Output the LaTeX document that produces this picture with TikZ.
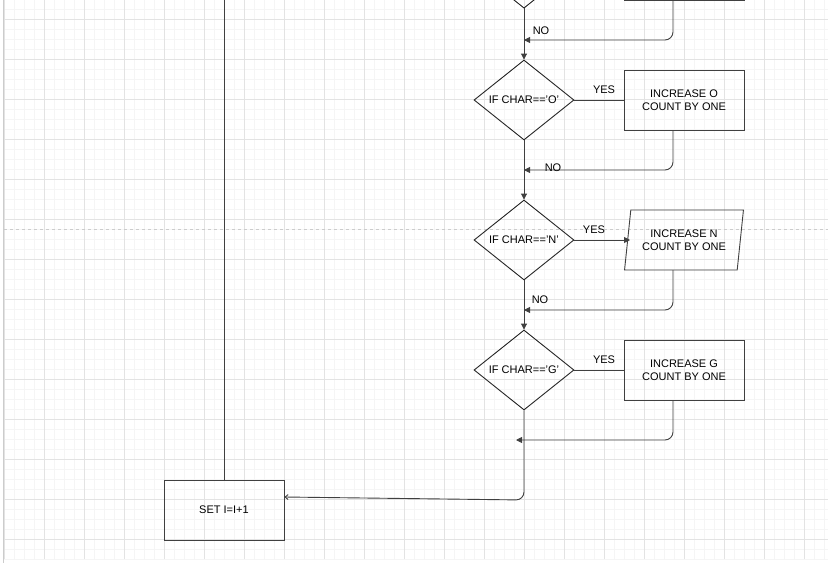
\documentclass[tikz,border=0pt]{standalone}
\usepackage{fontspec}
\setmainfont{Liberation Sans}
\usetikzlibrary{shapes.geometric,arrows.meta}
\begin{document}
\begin{tikzpicture}[x=1pt,y=-1pt,
  every node/.style={font=\fontsize{11}{13.5}\selectfont},
  ln/.style={draw=black!75,line width=0.9pt},
  ar/.style={ln,-{Triangle[length=6pt,width=6pt]}},
  dia/.style={draw=black!85,line width=0.9pt,diamond,minimum width=100pt,minimum height=80pt,inner sep=0pt,aspect=1.25},
  box/.style={draw=black!75,line width=0.9pt,minimum width=120pt,minimum height=60pt,align=center,inner sep=0pt},
  lab/.style={inner sep=0pt}]
\useasboundingbox (0,0) rectangle (828,563);
\fill[white] (0,0) rectangle (828,563);
\foreach \x in {4,14,...,824} \draw[black!4,line width=0.5pt] (\x,0) -- (\x,559);
\foreach \y in {9,19,...,559} \draw[black!4,line width=0.5pt] (4,\y) -- (828,\y);
\foreach \x in {4,44,...,824} \draw[black!11,line width=0.6pt] (\x,0) -- (\x,559);
\foreach \y in {19,59,...,539} \draw[black!11,line width=0.6pt] (4,\y) -- (828,\y);
\draw[black!20,line width=1pt] (3,0) -- (3,563);
\draw[black!20,dashed,line width=1pt] (4,229) -- (828,229);
% top partial
\coordinate (tipT) at (524,8);
\draw[black!85,line width=0.9pt] (474,-32) -- (524,8) -- (574,-32);
\draw[ln] (624,-10) -- (624,0) -- (744,0) -- (744,-10);
\node[dia] (dO) at (524,100) {IF CHAR=='O'};
\node[box] (bO) at (684,100) {INCREASE O\\COUNT BY ONE};
\node[dia] (dN) at (524,240) {IF CHAR=='N'};
\node[draw=black!75,line width=0.9pt,trapezium,trapezium left angle=77,trapezium right angle=103,minimum width=120pt,minimum height=60pt,inner sep=0pt,align=center,trapezium stretches=true] (bN) at (684,240) {INCREASE N\\COUNT BY ONE};
\node[dia] (dG) at (524,370) {IF CHAR=='G'};
\node[box] (bG) at (684,370) {INCREASE G\\COUNT BY ONE};
\node[box] (set) at (224,510) {SET I=I+1};
% connectors
\draw[ar] (tipT) -- (dO.north);
\draw[ar,rounded corners=8pt] (673,0) -- (673,40) -- (524,40);
\node[lab] at (541,31) {NO};
\draw[ln] (dO.east) -- (bO.west);
\node[lab] at (604,90) {YES};
\draw[ar,rounded corners=8pt] (bO.south -| 673,0) -- (673,170) -- (524,170);
\node[lab] at (553,168) {NO};
\draw[ar] (dO.south) -- (dN.north);
\draw[ar] (dN.east) -- (630,240);
\node[lab] at (594,230) {YES};
\draw[ar,rounded corners=8pt] (673,270) -- (673,310) -- (524,310);
\node[lab] at (540,300) {NO};
\draw[ar] (dN.south) -- (dG.north);
\draw[ln] (dG.east) -- (bG.west);
\node[lab] at (604,360) {YES};
\draw[ar,rounded corners=8pt] (bG.south -| 673,0) -- (673,440) -- (516,440);
\draw[ln,-{Straight Barb[length=3pt,width=5pt]},rounded corners=8pt] (dG.south) -- (524,500) -- (set.east |- 0,497);
\draw[ln] (set.north) -- (224,0);
\end{tikzpicture}
\end{document}
